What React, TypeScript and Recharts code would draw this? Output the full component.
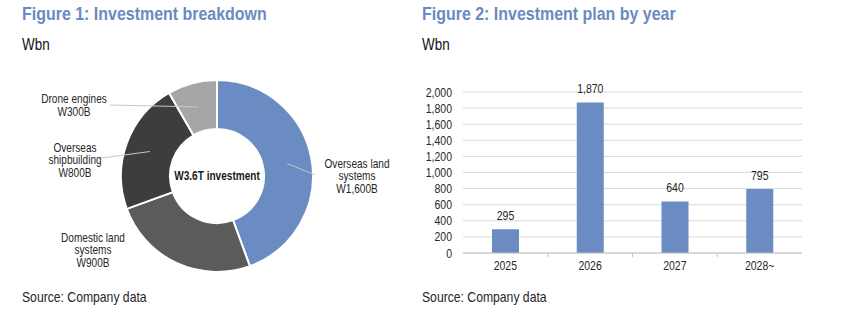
import React from "react";
import {
  PieChart,
  Pie,
  Cell,
  BarChart,
  Bar,
  XAxis,
  YAxis,
  CartesianGrid,
  LabelList,
} from "recharts";

const segments = [
  "Overseas land systems",
  "Domestic land systems",
  "Overseas shipbuilding",
  "Drone engines",
];
const segmentValues = [1600, 900, 800, 300];
const segmentLabels = [
  ["Overseas land", "systems", "W1,600B"],
  ["Domestic land", "systems", "W900B"],
  ["Overseas", "shipbuilding", "W800B"],
  ["Drone engines", "W300B"],
];
const segmentColors = ["#6a8cc2", "#5b5b5b", "#3d3d3d", "#a6a6a6"];
const centerLabel = "W3.6T investment";

const years = ["2025", "2026", "2027", "2028~"];
const plan = [295, 1870, 640, 795];
const yTicks = [0, 200, 400, 600, 800, 1000, 1200, 1400, 1600, 1800, 2000];

const pieData = segments.map((name, i) => ({ name, value: segmentValues[i] }));
const barData = years.map((year, i) => ({ year, value: plan[i] }));

// no Arial Narrow offline, so squeeze Liberation Sans horizontally
const FONT = '"Liberation Sans", Arial, sans-serif';
const SQUEEZE = 0.84;
const TITLE = "#6a8bbf";
const TEXT = "#262626";

const fmt = (v: any) => Number(v).toLocaleString("en-US");

const NarrowText = ({
  x,
  y,
  anchor = "middle",
  size,
  bold = false,
  dy,
  children,
}: any) => (
  <text
    transform={`translate(${x} ${y}) scale(${SQUEEZE} 1)`}
    textAnchor={anchor}
    dy={dy}
    fontSize={size}
    fontWeight={bold ? "bold" : "normal"}
    fontFamily={FONT}
    fill={bold ? "#1a1a1a" : TEXT}
  >
    {children}
  </text>
);

// label text centre + leader end, relative to the pie centre
const labelSpots = [
  { tx: 140, ty: 0, lx: 98, ly: -1 },
  { tx: -124, ty: 74, lx: null, ly: null },
  { tx: -142, ty: -16, lx: -115, ly: -18 },
  { tx: -143, ty: -71, lx: -107, ly: -71 },
];

const RAD = Math.PI / 180;

const renderPieLabel = (props: any) => {
  const { cx, cy, midAngle, innerRadius, outerRadius, index } = props;
  const spot = labelSpots[index];
  const lines = segmentLabels[index];
  const r = (innerRadius + outerRadius) / 2;
  const sx = cx + r * Math.cos(-midAngle * RAD);
  const sy = cy + r * Math.sin(-midAngle * RAD);
  const lh = 12.5;
  const y0 = cy + spot.ty - ((lines.length - 1) / 2) * lh;
  return (
    <g>
      {index === 0 && (
        <NarrowText x={cx} y={cy} size={12} bold dy="0.36em">
          {centerLabel}
        </NarrowText>
      )}
      {spot.lx !== null && (
        <line
          x1={sx}
          y1={sy}
          x2={cx + spot.lx}
          y2={cy + (spot.ly as number)}
          stroke="#c8c8c8"
          strokeWidth={1}
        />
      )}
      {lines.map((l, i) => (
        <NarrowText key={i} x={cx + spot.tx} y={y0 + i * lh} size={12} dy="0.36em">
          {l}
        </NarrowText>
      ))}
    </g>
  );
};

const YTick = (props: any) => (
  <NarrowText x={props.x} y={props.y} anchor="end" size={12.5} dy="0.36em">
    {fmt(props.payload.value)}
  </NarrowText>
);

const XTick = (props: any) => {
  const { x, y, payload, index } = props;
  const half = payload.offset;
  return (
    <g>
      {index > 0 && typeof half === "number" && half > 0 && (
        <line
          x1={payload.coordinate - half}
          x2={payload.coordinate - half}
          y1={y - 8}
          y2={y - 4}
          stroke="#c4c4c4"
        />
      )}
      <NarrowText x={x} y={y} size={12.5} dy="0.71em">
        {payload.value}
      </NarrowText>
    </g>
  );
};

const squeezed = {
  position: "absolute" as const,
  fontFamily: FONT,
  whiteSpace: "nowrap" as const,
  transform: `scaleX(${SQUEEZE})`,
  transformOrigin: "left center",
  lineHeight: 1.15,
};

const heading = (left: number, title: string) => (
  <>
    <div style={{ ...squeezed, left, top: 3, fontWeight: "bold", fontSize: 19, color: TITLE }}>
      {title}
    </div>
    <div style={{ ...squeezed, left, top: 36, fontSize: 16, color: "#111" }}>Wbn</div>
    <div style={{ ...squeezed, left, top: 289, fontSize: 14.5, color: TEXT }}>
      Source: Company data
    </div>
  </>
);

export default function App() {
  return (
    <div
      style={{
        position: "absolute",
        left: 0,
        top: 0,
        width: 860,
        height: 333,
        background: "#fff",
        overflow: "hidden",
      }}
    >
      {heading(22, "Figure 1: Investment breakdown")}
      {heading(422, "Figure 2: Investment plan by year")}

      <div style={{ position: "absolute", left: 0, top: 0 }}>
        <PieChart width={420} height={333} margin={{ top: 0, right: 0, bottom: 0, left: 0 }}>
          <Pie
            data={pieData}
            dataKey="value"
            nameKey="name"
            cx={217}
            cy={176}
            innerRadius={47}
            outerRadius={96}
            startAngle={90}
            endAngle={-270}
            stroke="#ffffff"
            strokeWidth={2}
            label={renderPieLabel}
            labelLine={false}
            isAnimationActive={false}
          >
            {pieData.map((d, i) => (
              <Cell key={d.name} fill={segmentColors[i]} />
            ))}
          </Pie>
        </PieChart>
      </div>

      <div style={{ position: "absolute", left: 420, top: 60 }}>
        <BarChart
          width={420}
          height={230}
          data={barData}
          margin={{ top: 32, right: 38, left: 0, bottom: 0 }}
        >
          <CartesianGrid vertical={false} stroke="#d9d9d9" />
          <XAxis
            dataKey="year"
            height={37}
            axisLine={{ stroke: "#c4c4c4" }}
            tickLine={false}
            tickSize={0}
            tickMargin={8}
            tick={<XTick />}
          />
          <YAxis
            width={43}
            domain={[0, 2000]}
            ticks={yTicks}
            interval={0}
            axisLine={false}
            tickLine={false}
            tickSize={6}
            tickMargin={5}
            tick={<YTick />}
          />
          <Bar dataKey="value" fill="#6a8cc2" barSize={27} isAnimationActive={false}>
            <LabelList
              dataKey="value"
              position="top"
              offset={9}
              content={(p: any) => (
                <NarrowText x={p.x + p.width / 2} y={p.y - 9} size={12.5}>
                  {fmt(p.value)}
                </NarrowText>
              )}
            />
          </Bar>
        </BarChart>
      </div>
    </div>
  );
}
